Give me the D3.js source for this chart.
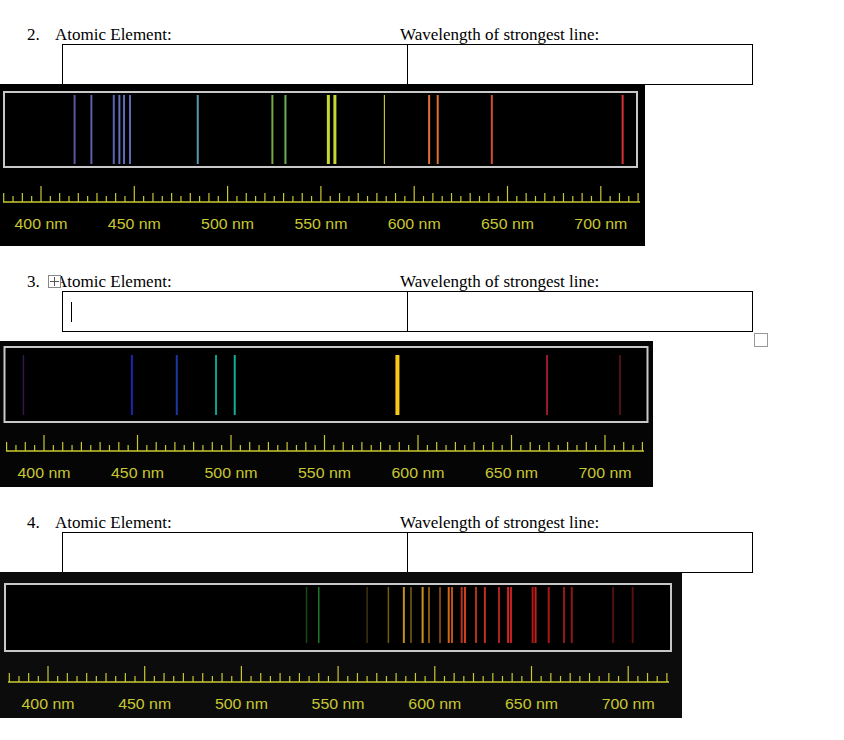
<!DOCTYPE html>
<html><head><meta charset="utf-8">
<script src="https://cdn.jsdelivr.net/npm/d3@7"></script>
<style>body{margin:0;background:#fff}svg{display:block}</style>
</head><body><svg id="c" width="844" height="740"></svg>
<script>
const tickLabels = [400,450,500,550,600,650,700];
const lines1 = [418,427,439,442,444.5,447.7,484,524,531,554,557.5,584,608,612.6,641.6,711.7];
const colors1 = ["#5858a0","#6060a8","#5a64b0","#6070b8","#6070b8","#5a6ab4","#5a98b0","#78a848","#68b058","#c8d830","#c8d830","#e8e040","#e07038","#e07038","#d05030","#d83030"];
const widths1 = [2,2,2,2,2,2,2,2,2,3,3,1,2,2,2,2];
const lines2 = [389,447,471,492,502,589,669,708];
const colors2 = ["#301850","#1828b0","#1838a8","#10a090","#10b098","#f8c818","#a01828","#501018"];
const widths2 = [1.5,2,2,2,2,4,2,2];
const lines3 = [533.7,540,565,576,584,587.7,593.7,597,602.7,607.2,608.9,613.9,615.6,621.3,625.9,633.2,637.9,639.4,650.6,652.1,658.9,666.8,670.8,692.2,702.3];
const colors3 = ["#184818","#207828","#403010","#706010","#c09018","#806018","#d09020","#b07018","#a05818","#d06818","#c05018","#c03018","#d04020","#b03018","#c03020","#b02020","#e02020","#c02020","#b01818","#c02020","#a81818","#901818","#901818","#501010","#581010"];
const widths3 = [1.5,1.5,1.5,1.5,2,1.5,2,1.5,1.5,2,2,2,2,2,2,2,2,2,2,2,2,2,2,2,2];

const svg = d3.select("#c");
const serif = "'Liberation Serif','Times New Roman',serif";

function header(num, y, boxY){
  svg.append("text").attr("x",27).attr("y",y).attr("font-family",serif).attr("font-size",17).text(num+".");
  svg.append("text").attr("x",55).attr("y",y).attr("font-family",serif).attr("font-size",17).text("Atomic Element:");
  svg.append("text").attr("x",400).attr("y",y).attr("font-family",serif).attr("font-size",17).text("Wavelength of strongest line:");
  svg.append("rect").attr("x",62.5).attr("y",boxY+0.5).attr("width",345).attr("height",40).attr("fill","none").attr("stroke","#000");
  svg.append("rect").attr("x",407.5).attr("y",boxY+0.5).attr("width",345).attr("height",40).attr("fill","none").attr("stroke","#000");
}

function panel(p){
  const g = svg.append("g");
  g.append("rect").attr("x",0).attr("y",p.y0).attr("width",p.w).attr("height",p.h).attr("fill",p.bg);
  const x = d3.scaleLinear().domain([400,450]).range([p.x400,p.x400+p.px50]);
  g.append("rect").attr("x",p.bx).attr("y",p.by).attr("width",p.bw).attr("height",p.bh).attr("fill","#000").attr("stroke","#c8c8c8").attr("stroke-width",2);
  g.selectAll(".ln").data(p.lines).join("line")
    .attr("x1",d=>x(d)).attr("x2",d=>x(d)).attr("y1",p.ly1).attr("y2",p.ly2)
    .attr("stroke",(d,i)=>p.colors[i]).attr("stroke-width",(d,i)=>p.widths[i]);
  const col="#c8c832";
  const ticks = d3.range(380,722,5).filter(t=>x(t)>=p.rx0-1 && x(t)<=p.rx1+1);
  g.append("line").attr("x1",p.rx0).attr("x2",p.rx1).attr("y1",p.base).attr("y2",p.base).attr("stroke",col).attr("stroke-width",1.5);
  g.selectAll(".tk").data(ticks).join("line")
    .attr("x1",d=>x(d)).attr("x2",d=>x(d)).attr("y1",p.base)
    .attr("y2",d=>p.base-(d%50===0?16:(d%10===0?9:6)))
    .attr("stroke",col).attr("stroke-width",1.2);
  g.selectAll(".tl").data(tickLabels).join("text")
    .attr("x",d=>x(d)).attr("y",p.base+27).attr("text-anchor","middle")
    .attr("font-family","'Liberation Sans',Arial,sans-serif").attr("font-size",14).attr("fill",col)
    .attr("textLength",53).attr("lengthAdjust","spacingAndGlyphs")
    .text(d=>d+" nm");
}

header(2,40,44);
panel({y0:84,w:645,h:162,bg:"#000",x400:41,px50:93.3,bx:4,by:92,bw:633,bh:75,ly1:95,ly2:164,
  lines:lines1,colors:colors1,widths:widths1,base:202,rx0:3,rx1:640});
header(3,287,291);
panel({y0:341,w:653,h:146,bg:"#050505",x400:44,px50:93.5,bx:4.5,by:347,bw:643,bh:75,ly1:355,ly2:415,
  lines:lines2,colors:colors2,widths:widths2,base:451,rx0:6,rx1:644});
header(4,528,532);
panel({y0:572,w:682,h:146,bg:"#0c0c0c",x400:48,px50:96.7,bx:5,by:584,bw:666,bh:67,ly1:587,ly2:643,
  lines:lines3,colors:colors3,widths:widths3,base:682,rx0:8,rx1:669});

// cursor, table handle, small square
svg.append("line").attr("x1",71.5).attr("x2",71.5).attr("y1",302).attr("y2",322).attr("stroke","#000");
const h = svg.append("g");
h.append("rect").attr("x",48.5).attr("y",275.5).attr("width",12).attr("height",12).attr("fill","#fff").attr("stroke","#888");
h.append("path").attr("d","M54.5,277v9M50,281.5h9").attr("stroke","#555").attr("fill","none");
svg.append("rect").attr("x",754.5).attr("y",333.5).attr("width",13).attr("height",13).attr("fill","#fff").attr("stroke","#999");
</script></body></html>
